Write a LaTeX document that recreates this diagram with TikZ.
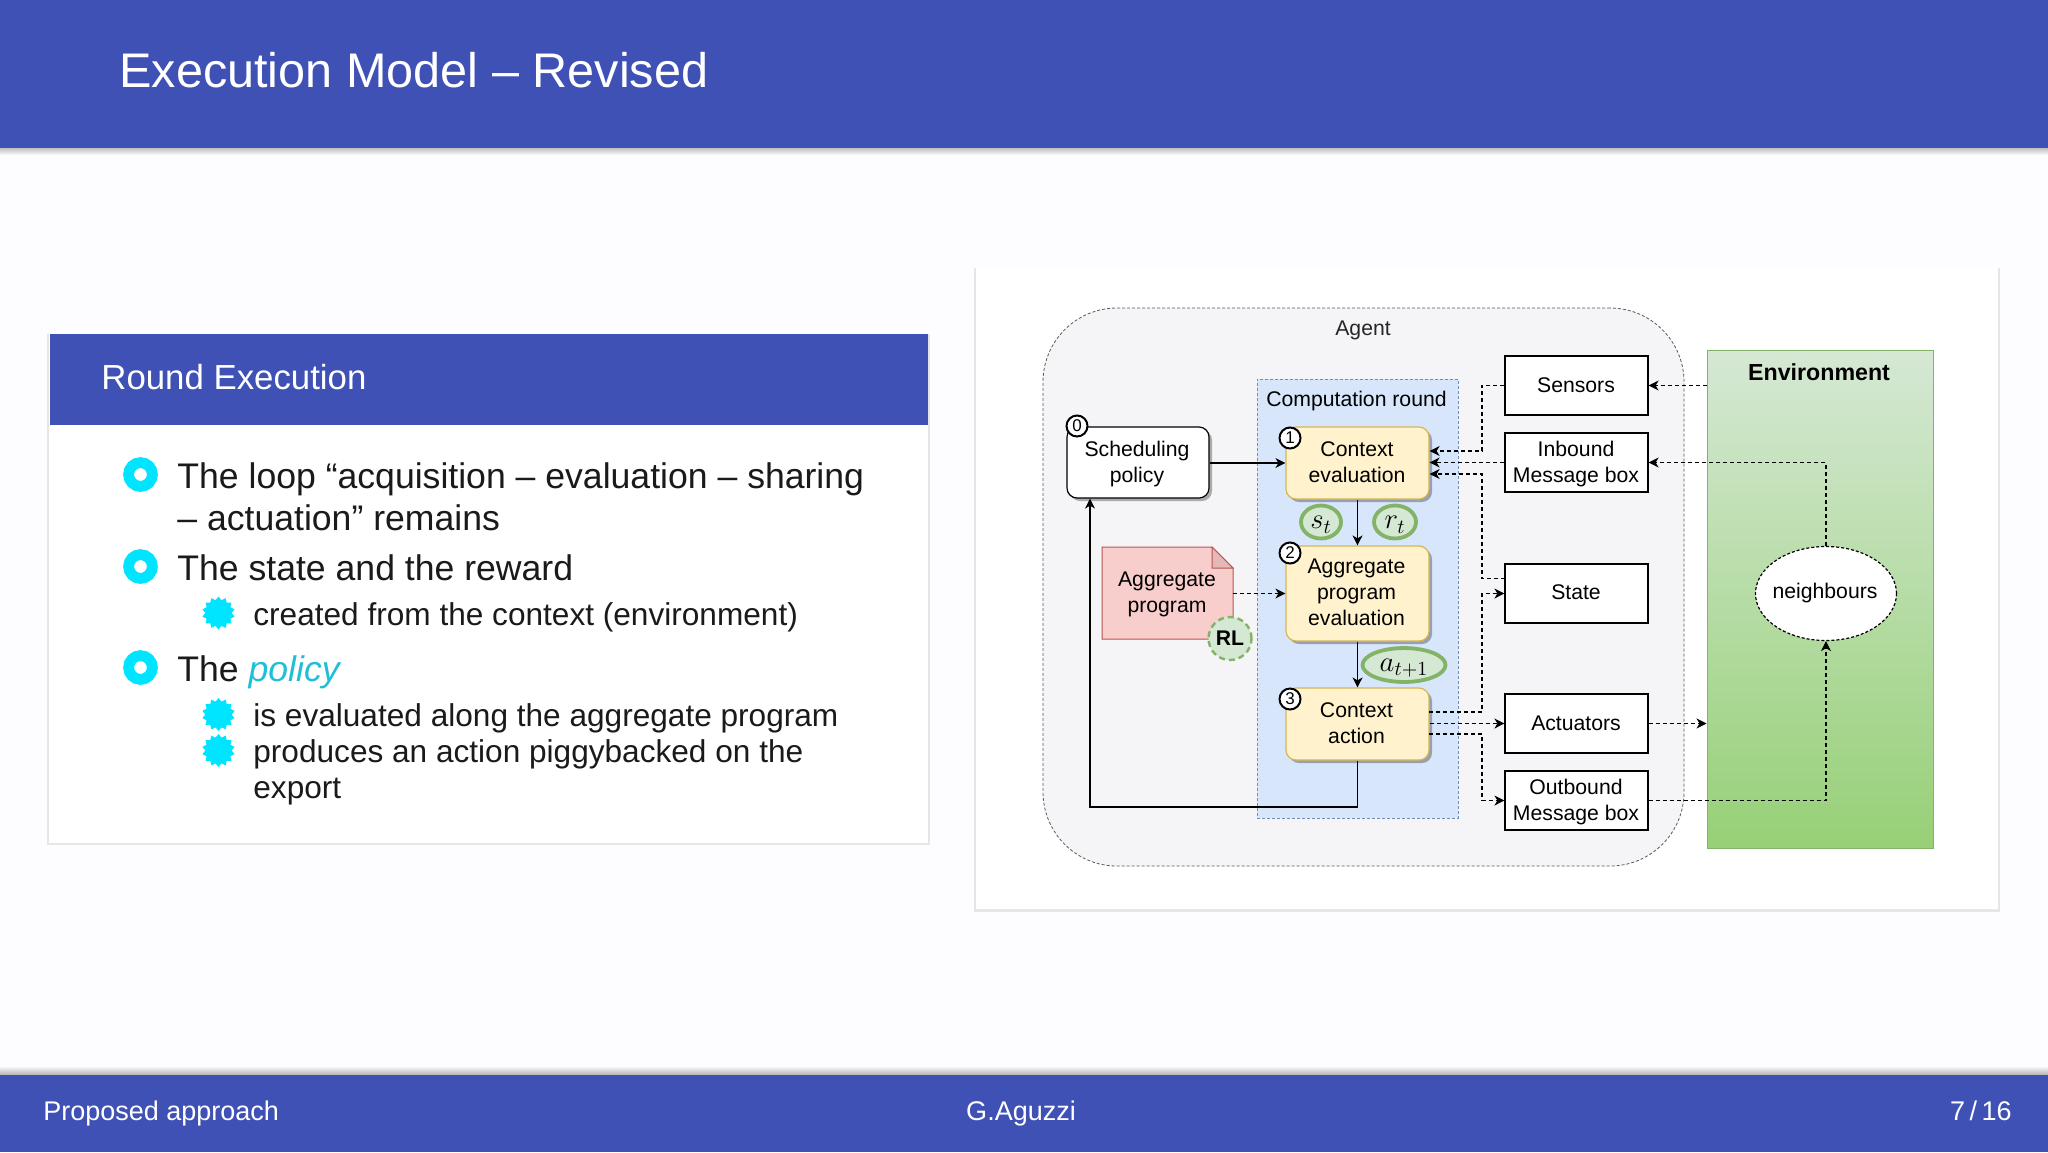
\documentclass[tikz,border=0pt]{standalone}
\usepackage{fontspec}
\setmainfont{Liberation Sans}
\usetikzlibrary{arrows.meta,shapes.geometric,shadows}

\definecolor{slidebg}{HTML}{FDFCFE}
\definecolor{indigo}{HTML}{3F51B5}
\definecolor{bulletcyan}{HTML}{00E5FF}
\definecolor{policycyan}{HTML}{1FBFD8}
\definecolor{slidetext}{HTML}{1A1A1A}
\definecolor{agentfill}{HTML}{F5F4F7}
\definecolor{roundfill}{HTML}{D8E6FB}
\definecolor{roundline}{HTML}{6C8EBF}
\definecolor{yellowfill}{HTML}{FFF2CC}
\definecolor{yellowline}{HTML}{D6B656}
\definecolor{greenfill}{HTML}{D5E8D4}
\definecolor{greenline}{HTML}{82B366}
\definecolor{envbottom}{HTML}{97D077}
\definecolor{redfill}{HTML}{F8CECC}
\definecolor{redfold}{HTML}{E3B9B8}
\definecolor{redline}{HTML}{B85450}

\tikzset{
  softshadow/.style={drop shadow={shadow xshift=1.5pt,shadow yshift=-1.5pt,opacity=.3,fill=black}},
  cardshadow/.style={drop shadow={shadow scale=1.004,shadow xshift=0pt,shadow yshift=-0.6pt,opacity=.09,fill=black}},
  slidefont/.style={font=\fontsize{17.8}{21}\selectfont, text=slidetext, anchor=base west, inner sep=0pt},
  subfont/.style={font=\fontsize{15.8}{19}\selectfont, text=slidetext, anchor=base west, inner sep=0pt},
  barfont/.style={font=\fontsize{13.5}{16}\selectfont, text=white, inner sep=0pt},
  ringbullet/.style={circle, draw=bulletcyan, line width=5.4pt, fill=white, minimum size=11.9pt, inner sep=0pt},
  starbullet/.style={star, star points=14, star point ratio=1.25, fill=bulletcyan, minimum size=16.5pt, inner sep=0pt},
  boxfont/.style={font=\fontsize{10.6}{13}\selectfont, align=center, text=black},
  stepbox/.style={boxfont, draw=yellowline, fill=yellowfill, line width=0.6pt, rounded corners=5pt, minimum width=71.5pt, softshadow},
  ioBox/.style={boxfont, draw=black, fill=white, line width=0.6pt, minimum width=71.5pt, minimum height=29.5pt, inner sep=0pt},
  numcircle/.style={circle, draw=black, fill=white, line width=1pt, minimum size=10.5pt, inner sep=0pt, font=\fontsize{8.5}{9}\selectfont},
  flagoval/.style={ellipse, draw=greenline, fill=greenfill, line width=1.9pt, inner sep=0pt, font=\fontsize{14.5}{16}\selectfont},
  flow/.style={draw=black, line width=0.55pt, -{Stealth[length=5pt,width=5pt,inset=1.5pt]}},
  dataflow/.style={flow, dash pattern=on 2pt off 1.5pt}
}

\begin{document}
\begin{tikzpicture}[x=0.5pt,y=-0.5pt]
  \useasboundingbox (0,0) rectangle (2048,1152);
  \fill[slidebg] (0,0) rectangle (2048,1152);

  % Header and footer bars
  \shade[top color=black!28, bottom color=slidebg] (0,147) rectangle (2048,155);
  \shade[top color=slidebg, bottom color=black!30] (0,1066) rectangle (2048,1075);
  \fill[indigo] (0,0) rectangle (2048,147.5);
  \fill[indigo] (0,1075) rectangle (2048,1152);
  \node[font=\fontsize{24.3}{28}\selectfont, text=white, anchor=base west, inner sep=0pt] (slidetitle) at (119,87) {Execution Model – Revised};
  \node[barfont, anchor=base west] (footleft) at (43,1120) {Proposed approach};
  \node[barfont, anchor=base] (footmid) at (1021,1120) {G.Aguzzi};
  \node[barfont, anchor=base east] (footright) at (2012,1120) {7\,/\,16};

  % Left card
  \node[fill=white, cardshadow, minimum width=439.5pt, minimum height=254.5pt, inner sep=0pt] (card) at (488.5,588.5) {};
  \fill[indigo] (49.5,334) rectangle (928,425);
  \node[font=\fontsize{17.4}{20}\selectfont, text=white, anchor=base west, inner sep=0pt] (cardtitle) at (101,389) {Round Execution};

  % Card bullets
  \node[ringbullet] (ringa) at (140.5,474.5) {};
  \node[slidefont] (itema) at (177,488) {The loop “acquisition – evaluation – sharing};
  \node[slidefont] (itemb) at (177,530) {– actuation” remains};
  \node[ringbullet] (ringb) at (140.5,566.5) {};
  \node[slidefont] (itemc) at (177,580) {The state and the reward};
  \node[starbullet] (stara) at (218.5,613) {};
  \node[subfont] (subitema) at (253,625) {created from the context (environment)};
  \node[ringbullet] (ringc) at (140.5,667.5) {};
  \node[slidefont] (itemd) at (177,681) {The \textcolor{policycyan}{\itshape policy}};
  \node[starbullet] (starb) at (218.5,714.5) {};
  \node[subfont] (subitemb) at (253,726) {is evaluated along the aggregate program};
  \node[starbullet] (starc) at (218.5,750.5) {};
  \node[subfont] (subitemc) at (253,762) {produces an action piggybacked on the};
  \node[subfont] (subitemd) at (253,798) {export};

  % Right panel
  \node[fill=white, cardshadow, minimum width=511pt, minimum height=320.5pt, inner sep=0pt] (panel) at (1487,588.5) {};

  % Containers
  \node[draw=black!65, fill=agentfill, dash pattern=on 1.5pt off 1pt, line width=0.4pt, rounded corners=37pt, minimum width=320.5pt, minimum height=279pt, inner sep=0pt] (agent) at (1363.5,587) {};
  \node[boxfont, text=black!85] (agentlabel) at (1363,330) {Agent};
  \node[draw=roundline, fill=roundfill, dash pattern=on 1.5pt off 1pt, line width=0.4pt, minimum width=100.5pt, minimum height=219.5pt, inner sep=0pt] (round) at (1357.5,598.5) {};
  \node[boxfont] (roundlabel) at (1356.5,401.5) {Computation round};
  \node[draw=greenline, top color=greenfill, bottom color=envbottom, line width=0.5pt, minimum width=113pt, minimum height=249pt, inner sep=0pt] (env) at (1820,599) {};
  \node[boxfont, font=\fontsize{11.6}{14}\selectfont\bfseries] (envlabel) at (1819,372) {Environment};

  % Scheduling and steps
  \node[boxfont, draw=black, fill=white, line width=0.6pt, rounded corners=5pt, minimum width=71pt, minimum height=35.5pt, inner sep=0pt, softshadow] (policybox) at (1138,462.5) {};
  \node[boxfont] (policytext) at (1137,464.5) {Scheduling\\policy};
  \node[stepbox, minimum height=36pt, inner sep=0pt] (ctxeval) at (1357.5,463) {};
  \node[boxfont] (ctxevaltext) at (1357,462) {Context\\evaluation};
  \node[stepbox, minimum height=47.5pt, inner sep=0pt] (aggeval) at (1357.5,593.5) {};
  \node[boxfont] (aggevaltext) at (1356.5,592) {Aggregate\\program\\evaluation};
  \node[stepbox, minimum height=36pt, inner sep=0pt] (ctxaction) at (1357.5,724) {};
  \node[boxfont] (ctxactiontext) at (1356.5,723) {Context\\action};

  % Aggregate program document
  \draw[draw=redline, fill=redfill, line width=0.5pt] (1102,547) -- (1212,547) -- (1233,568) -- (1233,639) -- (1102,639) -- cycle;
  \draw[draw=redline, fill=redfold, line width=0.5pt] (1212,547) -- (1212,568) -- (1233,568) -- cycle;
  \node[boxfont, minimum width=65.5pt, minimum height=46pt, inner sep=0pt] (progdoc) at (1167,594.5) {Aggregate\\program};

  % Right column
  \node[ioBox] (sensors) at (1576.5,385.5) {};
  \node[boxfont] (sensorstext) at (1576,385) {Sensors};
  \node[ioBox] (inbound) at (1576.5,462.5) {};
  \node[boxfont] (inboundtext) at (1576,464) {Inbound\\Message box};
  \node[ioBox] (state) at (1576.5,593.5) {};
  \node[boxfont] (statetext) at (1576,592.5) {State};
  \node[ioBox] (actuators) at (1576.5,723.5) {};
  \node[boxfont] (actuatorstext) at (1576,723) {Actuators};
  \node[ioBox] (outbound) at (1576.5,800.5) {};
  \node[boxfont] (outboundtext) at (1576,802) {Outbound\\Message box};
  \node[ellipse, draw=black, fill=white, dash pattern=on 1.5pt off 1pt, line width=0.6pt, minimum width=70.5pt, minimum height=47pt, inner sep=0pt] (neighbours) at (1826,593.5) {};
  \node[boxfont] (neighbourstext) at (1825,593) {neighbours};

  % Solid connectors
  \coordinate (loopcorner) at (1090,807);
  \draw[flow] (policybox.east |- ctxeval.west) -- (ctxeval.west);
  \draw[flow] (ctxeval.south) -- (aggeval.north);
  \draw[flow] (aggeval.south) -- (ctxaction.north);
  \draw[flow] (ctxaction.south) |- (loopcorner) -- (loopcorner |- policybox.south);

  % Dashed connectors into the round
  \coordinate (sensorbus) at (1482,451);
  \coordinate (statebus) at (1482,474);
  \coordinate (stateout) at (1505,578.5);
  \draw[dataflow] (sensors.west) -| (sensorbus) -- (ctxeval.east |- sensorbus);
  \draw[dataflow] (inbound.west) -- (ctxeval.east |- inbound.west);
  \draw[dataflow] (stateout) -| (statebus) -- (ctxeval.east |- statebus);
  \draw[dataflow] (progdoc.east |- aggeval.west) -- (aggeval.west);

  % Dashed connectors out of the round
  \coordinate (actionup) at (1429,712);
  \coordinate (actiondown) at (1429,734);
  \coordinate (busup) at (1482,712);
  \coordinate (busdown) at (1482,734);
  \draw[dataflow] (actionup) -- (busup) |- (state.west);
  \draw[dataflow] (ctxaction.east |- actuators.west) -- (actuators.west);
  \draw[dataflow] (actiondown) -- (busdown) |- (outbound.west);

  % Environment connectors
  \draw[dataflow] (env.west |- sensors.east) -- (sensors.east);
  \draw[dataflow] (neighbours.north) |- (inbound.east);
  \draw[dataflow] (actuators.east) -- (env.west |- actuators.east);
  \draw[dataflow] (outbound.east) -| (neighbours.south);

  % Step numbers and flags
  \node[numcircle] (numzero) at (1077,426) {0};
  \node[numcircle] (numone) at (1290,438) {1};
  \node[numcircle] (numtwo) at (1290,553) {2};
  \node[numcircle] (numthree) at (1290,699) {3};
  \node[flagoval, minimum width=20pt, minimum height=16.5pt] (stateflag) at (1321,522) {\rule{0pt}{9pt}$s_t$};
  \node[flagoval, minimum width=21pt, minimum height=16.5pt] (rewardflag) at (1395,522) {\rule{0pt}{9pt}$r_t$};
  \node[flagoval, minimum width=41.5pt, minimum height=16.5pt] (actionflag) at (1404,665) {\rule{0pt}{9pt}$a_{t+1}$};
  \node[circle, draw=greenline, fill=greenfill, line width=1.2pt, dash pattern=on 3pt off 2pt, minimum size=21.5pt, inner sep=0pt, font=\fontsize{10.6}{13}\selectfont\bfseries] (rlflag) at (1230,638.5) {RL};
\end{tikzpicture}
\end{document}
